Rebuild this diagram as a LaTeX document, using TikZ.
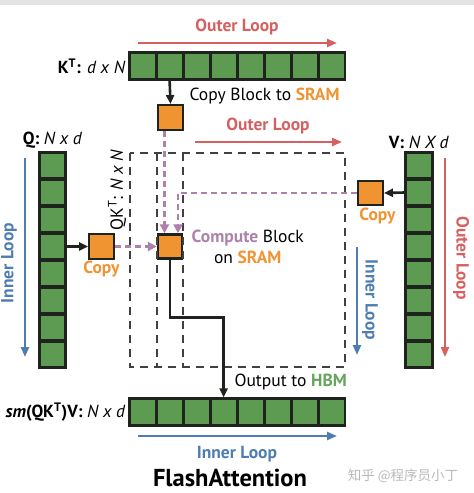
\documentclass[tikz,border=0pt]{standalone}
\usepackage{fontspec}
\setmainfont{PT Sans}
\newfontfamily\cjk{Noto Sans CJK SC}
\usetikzlibrary{positioning,arrows.meta}
\definecolor{cellgreen}{RGB}{93,155,82}
\definecolor{blkorange}{RGB}{240,148,50}
\definecolor{loopred}{RGB}{214,96,96}
\definecolor{loopblue}{RGB}{78,125,175}
\definecolor{flowpurple}{RGB}{172,130,172}
\definecolor{hbmgreen}{RGB}{100,165,90}
\definecolor{edge}{RGB}{30,35,30}
\begin{document}
\begin{tikzpicture}[x=1pt,y=-1pt,node distance=27pt,
  font=\fontsize{17.5}{21}\selectfont,
  cell/.style={draw=edge,fill=cellgreen,line width=2.6pt,minimum size=26.5pt,inner sep=0pt},
  blk/.style={draw=edge,fill=blkorange,line width=2.4pt,minimum size=24.5pt,inner sep=0pt},
  box/.style={draw=black!75,line width=1.6pt,dash pattern=on 8pt off 6pt},
  looptext/.style={font=\fontsize{17.5}{21}\selectfont\bfseries},
  outer/.style={draw=loopred,line width=2.4pt,-{Triangle[length=10pt,width=8pt]}},
  inner/.style={draw=loopblue,line width=2.4pt,-{Triangle[length=10pt,width=8pt]}},
  copyarrow/.style={draw=flowpurple,line width=2.4pt,dash pattern=on 6pt off 4pt,-{Triangle[length=9pt,width=9pt]}},
  hbm/.style={draw=edge,line width=2.6pt,-{Triangle[length=9pt,width=8pt]}}]
  \useasboundingbox (0,0) rectangle (474,493);
  \fill[gray!22] (0,0) rectangle (474,5);
  % K^T row
  \node (k1) [cell] at (142.6,66) {};
  \node (k2) [cell, right of=k1] {};
  \node (k3) [cell, right of=k2] {};
  \node (k4) [cell, right of=k3] {};
  \node (k5) [cell, right of=k4] {};
  \node (k6) [cell, right of=k5] {};
  \node (k7) [cell, right of=k6] {};
  \node (k8) [cell, right of=k7] {};
  % Q column
  \node (q1) [cell] at (52.5,165.5) {};
  \node (q2) [cell, below of=q1] {};
  \node (q3) [cell, below of=q2] {};
  \node (q4) [cell, below of=q3] {};
  \node (q5) [cell, below of=q4] {};
  \node (q6) [cell, below of=q5] {};
  \node (q7) [cell, below of=q6] {};
  \node (q8) [cell, below of=q7] {};
  % V column
  \node (v1) [cell] at (419,165.5) {};
  \node (v2) [cell, below of=v1] {};
  \node (v3) [cell, below of=v2] {};
  \node (v4) [cell, below of=v3] {};
  \node (v5) [cell, below of=v4] {};
  \node (v6) [cell, below of=v5] {};
  \node (v7) [cell, below of=v6] {};
  \node (v8) [cell, below of=v7] {};
  % output row
  \node (o1) [cell] at (142.6,412) {};
  \node (o2) [cell, right of=o1] {};
  \node (o3) [cell, right of=o2] {};
  \node (o4) [cell, right of=o3] {};
  \node (o5) [cell, right of=o4] {};
  \node (o6) [cell, right of=o5] {};
  \node (o7) [cell, right of=o6] {};
  \node (o8) [cell, right of=o7] {};
  % blocks on SRAM
  \node (kcopy) [blk] at (170.5,117.5) {};
  \node (qcopy) [blk] at (101.5,246.5) {};
  \node (vcopy) [blk] at (370.5,193) {};
  \node (compute) [blk, minimum size=24pt] at (170,246.5) {};
  % QK^T area
  \draw[box] (130,153) rectangle (345,367);
  \draw[box] (157,153) -- (157,367) (183,153) -- (183,367);
  % labels
  \node (klabel) [left=-1pt of k1] {\textbf{K\textsuperscript{T}:} \textit{d x N}};
  \node (olabel) [left=-1pt of o1] {\textbf{\textit{sm}(QK\textsuperscript{T})V:} \textit{N x d}};
  \node (qlabel) [above=-1pt of q1] {\textbf{Q:} \textit{N x d}};
  \node (vlabel) [above=-1pt of v1] {\textbf{V:} \textit{N X d}};
  \node (qklabel) [rotate=90] at (117,190) {QK\textsuperscript{T}: \textit{N x N}};
  \node (copyk) [anchor=west] at (186,96) {Copy Block to \textcolor{blkorange}{\textbf{SRAM}}};
  \node (copyq) [below=-2pt of qcopy, text=blkorange, looptext] {Copy};
  \node (copyv) [below=-2pt of vcopy, xshift=7pt, text=blkorange, looptext] {Copy};
  \node (computetxt) [right=5pt of compute, align=center] {\textcolor{flowpurple}{\textbf{Compute}} Block\\on \textcolor{blkorange}{\textbf{SRAM}}};
  \node (outputtxt) [anchor=west] at (231,382) {Output to \textcolor{hbmgreen}{\textbf{HBM}}};
  % loops
  \draw[outer] (138,43) -- (337,43);
  \node (outertop) [text=loopred, looptext] at (237,27) {Outer Loop};
  \draw[outer] (195,142) -- (342,142);
  \node (outermid) [text=loopred, looptext] at (268,126) {Outer Loop};
  \draw[outer] (445,158) -- (445,357);
  \node (outerright) [rotate=-90, text=loopred, looptext] at (461,258) {Outer Loop};
  \draw[inner] (25,158) -- (25,357);
  \node (innerleft) [rotate=90, text=loopblue, looptext] at (9,263) {Inner Loop};
  \draw[inner] (357,247) -- (357,355);
  \node (innermid) [rotate=-90, text=loopblue, looptext] at (370,300) {Inner Loop};
  \draw[inner] (138,436) -- (337,436);
  \node (innerbottom) [text=loopblue, looptext] at (237,454) {Inner Loop};
  % connectors
  \draw[hbm] (k2.south) -- (kcopy.north);
  \draw[hbm] (q4.east) -- (qcopy.west);
  \draw[hbm] (v2.west) -- (vcopy.east);
  \draw[copyarrow] ([xshift=-6pt]kcopy.south) -- ([xshift=-6pt]kcopy.south |- compute.north);
  \draw[copyarrow] (vcopy.west) -| ([xshift=8pt]compute.north);
  \draw[copyarrow] (qcopy.east) -- (compute.west);
  \draw[hbm] (compute.south) -- ++(0,58) -| (o4.north);
  % title
  \node (title) [font=\fontsize{24.5}{28}\selectfont\bfseries] at (230,478) {FlashAttention};
  \node (zhihu) [text=gray!55, font=\fontsize{13.5}{15}\selectfont\cjk] at (403,476) {知乎 @程序员小丁};
\end{tikzpicture}
\end{document}
